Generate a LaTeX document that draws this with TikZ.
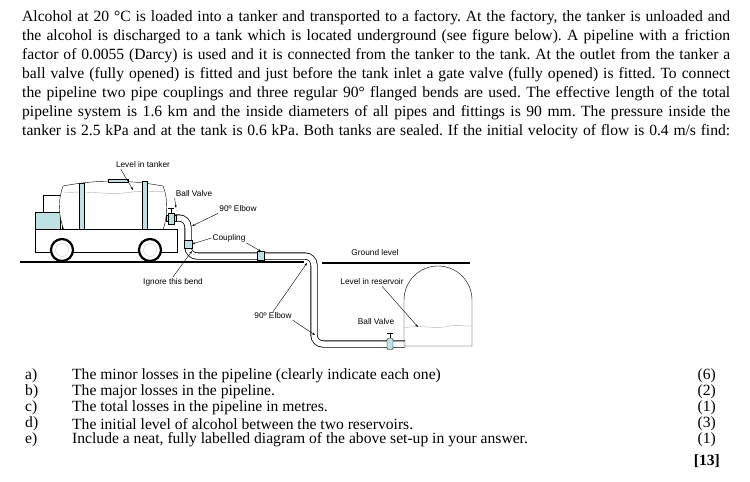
\documentclass[tikz,border=0pt]{standalone}
\usepackage{fontspec}
\setmainfont{Liberation Serif}
\newfontfamily\lblfont{Liberation Sans}
\usetikzlibrary{arrows.meta,positioning}
\definecolor{tealfill}{RGB}{190,225,228}
\frenchspacing
\begin{document}
\begin{tikzpicture}[x=1pt,y=-1pt,
    >={Stealth[length=3pt,width=2pt]},
    % --- styles ---
    para/.style = {anchor=west, inner sep=0pt, font=\fontsize{15.6}{17}\selectfont},
    lbl/.style  = {inner sep=1pt, font=\lblfont\fontsize{8.3}{9}\selectfont},
    ptr/.style  = {->, thin},
    pipe/.style = {double=white, double distance=5.5pt, line width=0.8pt, rounded corners=9pt},
    part/.style = {draw, fill=tealfill, thin},
    qnum/.style = {anchor=east, inner sep=0pt, font=\fontsize{15.6}{17}\selectfont},
]
\useasboundingbox (0,0) rectangle (750,482);

%============ TEXT ============
\node (l1) [para] at (22,18)  {\makebox[708pt][s]{Alcohol at 20 °C is loaded into a tanker and transported to a factory. At the factory, the tanker is unloaded and}};
\node (l2) [para] at (22,37)  {\makebox[708pt][s]{the alcohol is discharged to a tank which is located underground (see figure below). A pipeline with a friction}};
\node (l3) [para] at (22,56)  {\makebox[708pt][s]{factor of 0.0055 (Darcy) is used and it is connected from the tanker to the tank. At the outlet from the tanker a}};
\node (l4) [para] at (22,75)  {\makebox[708pt][s]{ball valve (fully opened) is fitted and just before the tank inlet a gate valve (fully opened) is fitted. To connect}};
\node (l5) [para] at (22,94)  {\makebox[708pt][s]{the pipeline two pipe couplings and three regular 90° flanged bends are used. The effective length of the total}};
\node (l6) [para] at (22,113) {\makebox[708pt][s]{pipeline system is 1.6 km and the inside diameters of all pipes and fittings is 90 mm. The pressure inside the}};
\node (l7) [para] at (22,132) {\makebox[708pt][s]{tanker is 2.5 kPa and at the tank is 0.6 kPa. Both tanks are sealed. If the initial velocity of flow is 0.4 m/s find:}};

%============ GROUND ============
\draw[line width=1.6pt] (20,262) -- (304,262);
\draw[line width=1.6pt] (322,263) -- (470,263);

%============ TRUCK ============
\draw[fill=white] (35,237) -- (35,212) -- (43,212) -- (43,195) -- (62,195) -- (62,237) -- cycle;
\draw[part] (35,212) rectangle (60,237);
\draw[fill=white] (63,186) .. controls (58,200) and (58,215) .. (64,230)
  -- (163,230) .. controls (168,215) and (168,198) .. (163,186)
  .. controls (130,180) and (100,179) .. (63,186);
\draw[gray!60] (64,193) .. controls (90,190) and (110,196) .. (132,192) .. controls (145,190) and (155,193) .. (164,191);
\draw[part] (108,179) rectangle (128,182);
\draw[part] (79,183) rectangle (84,231);
\draw[part] (142,181) rectangle (147,231);
\draw[fill=white] (35,229) rectangle (177,252);
\foreach \wx in {62,150} {
  \draw[line width=2.2pt, fill=white] (\wx,250) circle (11);
  \draw[gray!40, fill=white] (\wx,250) circle (6.5);
}

%============ PIPE ============
\coordinate (vin) at (172,218);
\draw[pipe] (vin) -- (188,218) -- (188,256) -- (314,256) -- (314,344) -- (405,344);
\draw[part] (166,215) rectangle (176,221);
\draw[part] (168,213) rectangle (174,224);
\draw (171,213) -- (171,208) (168,208) -- (174,208);
\node (cp1) [part, minimum width=8pt, minimum height=8pt, inner sep=0pt] at (188,244) {};
\node (cp2) [part, minimum width=7pt, minimum height=9pt, inner sep=0pt] at (261,256) {};
\node (bv2) [part, minimum width=6pt, minimum height=11pt, inner sep=0pt, rounded corners=1pt] at (390,344) {};
\draw (390,338) -- (390,333) (387,333) -- (393,333);

%============ RESERVOIR ============
\draw (404,346) -- (404,300) arc (180:360:34) -- (472,346) -- cycle;
\draw[gray!60] (404,328) .. controls (420,324) and (435,330) .. (450,326) .. controls (460,324) and (466,327) .. (472,326);

%============ LABELS ============
\node (lvtank) [lbl] at (143,165) {Level in tanker};
\node (bvtxt)  [lbl] at (194,194) {Ball Valve};
\node (elb1)   [lbl] at (238,209) {90º Elbow};
\node (cpl)    [lbl] at (229,238) {Coupling};
\node (grnd)   [lbl] at (375,253) {Ground level};
\node (ignore) [lbl] at (173,282) {Ignore this bend};
\node (lvres)  [lbl] at (372,282) {Level in reservoir};
\node (elb2)   [lbl] at (273,316) {90º Elbow};
\node (bv2txt) [lbl] at (376,322) {Ball Valve};

\coordinate (p1) at (133,190);
\coordinate (p2) at (176,208);
\coordinate (p3) at (192,226);
\coordinate (p4) at (315,335);
\coordinate (p5) at (307,263);
\coordinate (p6) at (192,251);
\coordinate (p7) at (418,327);
\draw[ptr] (lvtank.south west) ++(6,0) -- (p1);
\draw[ptr] (bvtxt.south west) -- (p2);
\draw[ptr] (elb1.south west) -- (p3);
\draw[ptr] (cpl.west) -- (cp1.east);
\draw[ptr] (cpl.south east) -- (cp2.north);
\draw[ptr] (ignore.north) -- (p6);
\draw[ptr] (elb2.north) -- (p5);
\draw[ptr] (elb2.south east) -- (p4);
\draw[ptr] (lvres.south) ++(10,0) -- (p7);

%============ QUESTIONS ============
\foreach \y/\q/\t/\m in {376/a)/The minor losses in the pipeline (clearly indicate each one)/(6),
    392/b)/The major losses in the pipeline./(2),
    408/c)/The total losses in the pipeline in metres./(1),
    424/d)/The initial level of alcohol between the two reservoirs./(3),
    440/e)/{Include a neat, fully labelled diagram of the above set-up in your answer.}/(1)} {
  \node [para] at (25,\y) {\q};
  \node [para] at (72,\y) {\t};
  \node [qnum] at (716,\y) {\m};
}
\node (total) [qnum] at (720,461) {\textbf{[13]}};
\end{tikzpicture}
\end{document}
